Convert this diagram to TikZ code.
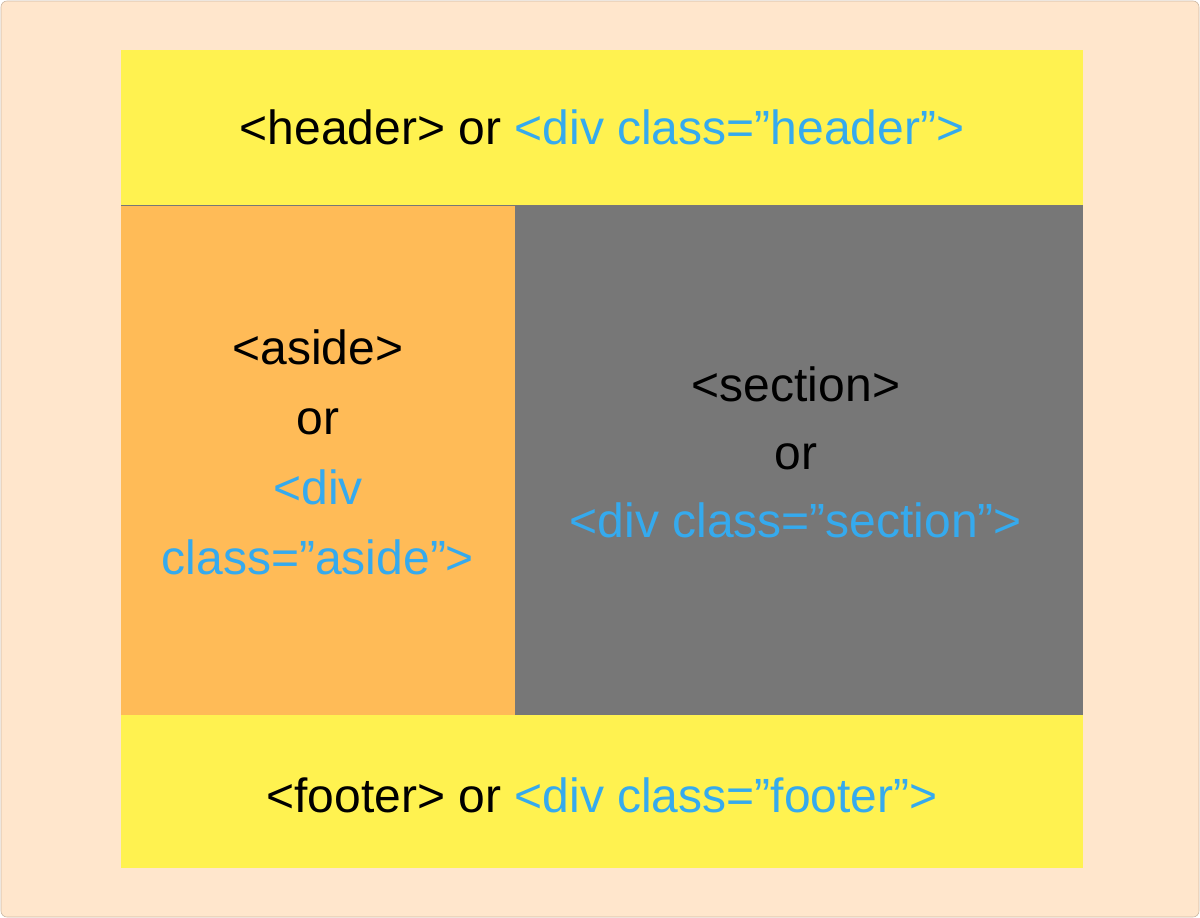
\documentclass[tikz,border=0pt]{standalone}
\usepackage{fontspec}
\setmainfont{Liberation Sans}
\definecolor{peach}{HTML}{FFE6CC}
\definecolor{yel}{HTML}{FFF250}
\definecolor{ora}{HTML}{FFBB57}
\definecolor{gry}{HTML}{777777}
\definecolor{blu}{HTML}{35AAEE}
\begin{document}
\begin{tikzpicture}[x=1pt,y=-1pt,
  lbl/.style={font=\fontsize{48}{70}\selectfont,align=center,inner sep=0pt}]
\useasboundingbox (0,0) rectangle (1200,918);
\fill[peach,draw=peach!80!black,line width=0.6pt,rounded corners=6pt] (1,1) rectangle (1199,917);
\fill[yel] (121,50) rectangle (1083,205);
\fill[ora] (121,205) rectangle (515,715);
\fill[gry] (515,205) rectangle (1083,715);
\fill[yel] (121,715) rectangle (1083,868);
\draw[gry,line width=1pt] (121,205) -- (515,205);
\node[lbl] (header) at (602,127) {<header> or \textcolor{blu}{<div class="header">}};
\node[lbl] (aside) at (318,452) {<aside>\\or\\\textcolor{blu}{<div}\\\textcolor{blu}{class="aside">}};
\node[lbl,font=\fontsize{48}{68}\selectfont] (section) at (796,452) {<section>\\or\\\textcolor{blu}{<div class="section">}};
\node[lbl] (footer) at (602,795) {<footer> or \textcolor{blu}{<div class="footer">}};
\end{tikzpicture}
\end{document}
